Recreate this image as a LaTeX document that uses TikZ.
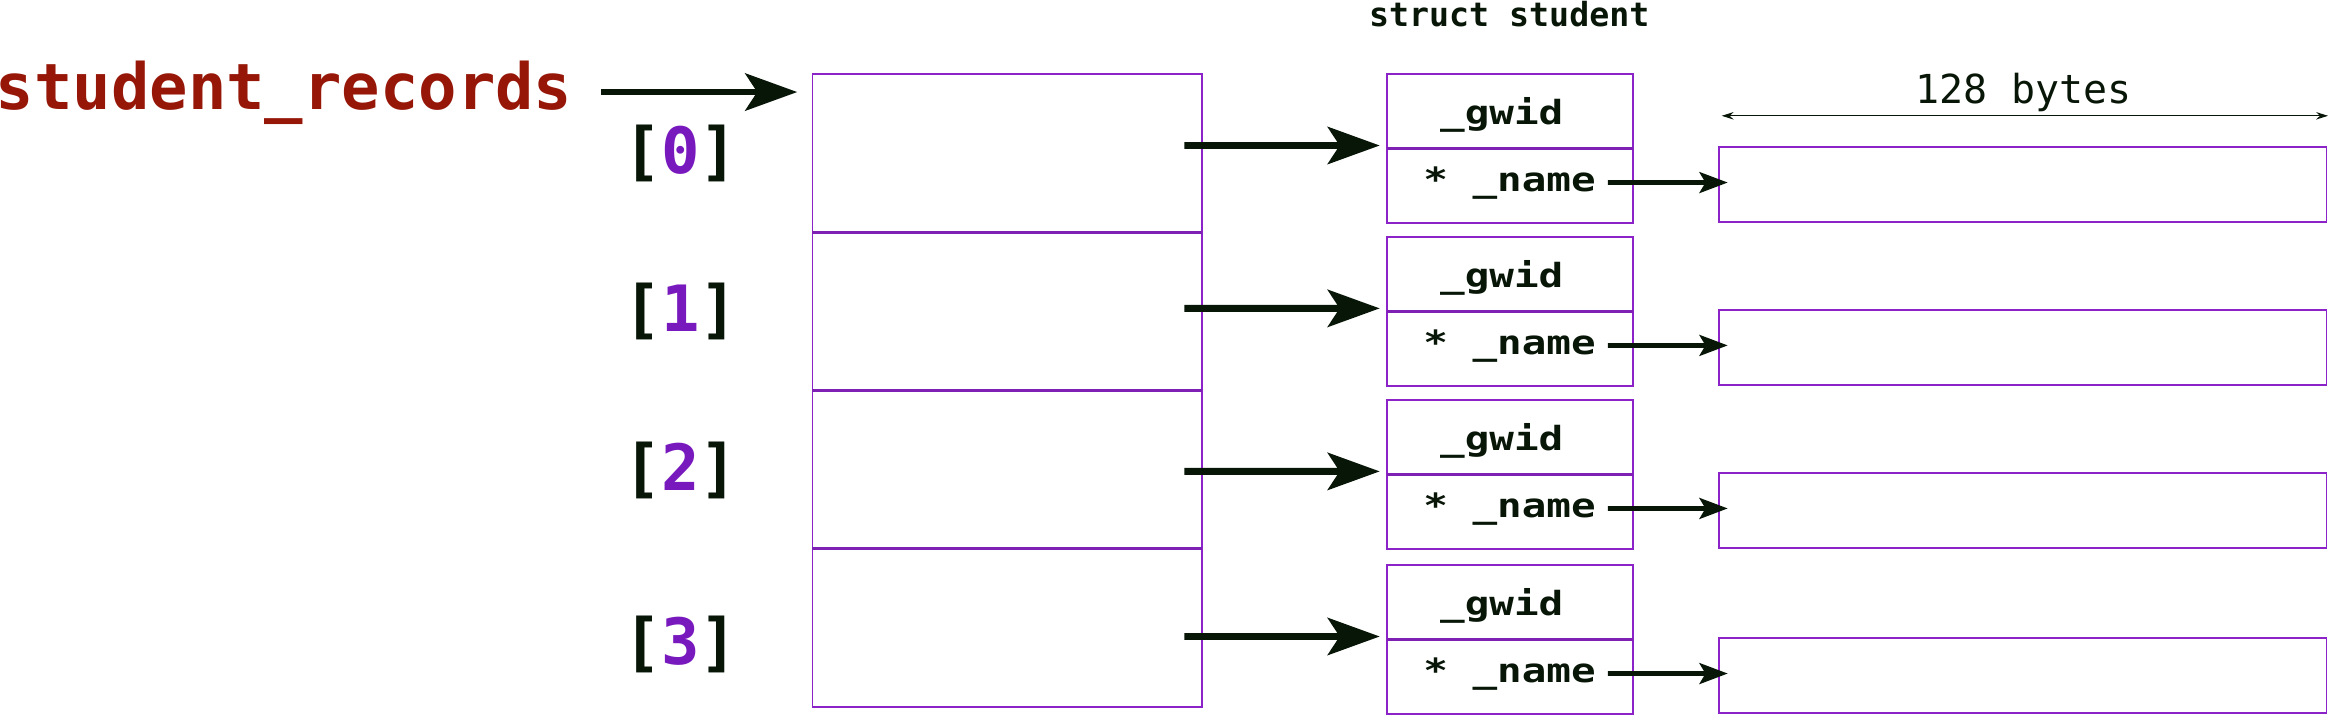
\documentclass[tikz,border=0pt]{standalone}
\usepackage{fontspec}
\newfontfamily\dvm{DejaVu Sans Mono}
\usetikzlibrary{arrows.meta}
\definecolor{recred}{RGB}{150,22,8}
\definecolor{boxpurple}{RGB}{140,35,200}
\definecolor{digpurple}{RGB}{120,25,190}
\definecolor{inkc}{RGB}{8,22,8}
\tikzset{
  cellbox/.style={draw=boxpurple, line width=1.1pt, minimum width=262.2pt, minimum height=106.55pt, anchor=north west, inner sep=0pt, outer sep=0pt},
  fieldbox/.style={draw=boxpurple, line width=1.1pt, minimum width=166pt, minimum height=50.2pt, anchor=north west, inner sep=0pt, outer sep=0pt},
  bufbox/.style={draw=boxpurple, line width=1.1pt, minimum width=409pt, minimum height=50.5pt, anchor=north west, inner sep=0pt, outer sep=0pt},
  divline/.style={draw=boxpurple!90!black, line width=2pt},
  bigarrow/.style={draw=inkc, line width=4.6pt, -{Stealth[length=35pt,width=25pt,inset=8pt]}},
  smallarrow/.style={draw=inkc, line width=3.2pt, -{Stealth[length=19pt,width=14pt,inset=4pt]}},
  dimarrow/.style={draw=inkc, line width=0.9pt, {Stealth[length=8pt,width=5pt]}-{Stealth[length=8pt,width=5pt]}},
  fieldtext/.style={anchor=base, inner sep=0pt, text=inkc, font=\dvm\bfseries\fontsize{22.4}{24}\selectfont},
  idxtext/.style={anchor=base, inner sep=0pt, text=inkc, font=\dvm\bfseries\fontsize{43}{45}\selectfont},
}
\begin{document}
\begin{tikzpicture}[x=1pt,y=-1pt]
\useasboundingbox (0,0) rectangle (1568,481.58);
% title
\node[anchor=base west, inner sep=0pt, text=recred, font=\dvm\bfseries\fontsize{43}{45}\selectfont] (title) at (-3,74) {student\_records};
\node[anchor=base, inner sep=0pt, text=inkc, font=\dvm\bfseries\fontsize{22.4}{24}\selectfont] (structlbl) at (1016.5,18) {struct student};
\node[anchor=base, inner sep=0pt, text=inkc, font=\dvm\fontsize{26.9}{28}\selectfont] (byteslbl) at (1363,69.6) {128 bytes};
% array cells
\foreach \i/\t in {0/49.8,1/156.35,2/262.9,3/369.45}{
  \node[cellbox] (c\i) at (547.2,\t) {};
}
\foreach \i in {1,2,3}{
  \draw[divline] (c\i.north west) -- (c\i.north east);
}
% index labels
\node[idxtext] (i0) at (458.5,116.8) {[\textcolor{digpurple}{0}]};
\node[idxtext] (i1) at (458.5,223.3) {[\textcolor{digpurple}{1}]};
\node[idxtext] (i2) at (458.5,330.3) {[\textcolor{digpurple}{2}]};
\node[idxtext] (i3) at (458.5,447.8) {[\textcolor{digpurple}{3}]};
% struct boxes and buffers
\foreach \i/\t in {0/49.8,1/159.5,2/269.3,3/380.5}{
  \node[fieldbox] (g\i) at (934,\t) {};
  \node[fieldbox] (n\i) at (934,\t+50.2) {};
  \draw[divline] (n\i.north west) -- (n\i.north east);
  \node[bufbox] (r\i) at (1158,\t+49.2) {};
  \node[fieldtext] (gt\i) at (1011.5,\t+33.9) {\scalebox{1.23}[1]{\_gwid}};
  \node[fieldtext] (nt\i) at (1016.7,\t+50.2+28.8) {\scalebox{1.23}[1]{* \_name}};
  \coordinate (ps\i) at (797.7,\t+48.2);
  \coordinate (ns\i) at (1083,\t+73.2);
  \draw[bigarrow] (ps\i) -- ([xshift=-4.7pt,yshift=2pt]g\i.south west);
  \draw[smallarrow] (ns\i) -- ([xshift=5.7pt,yshift=1.3pt]r\i.west);
}
% pointer arrow
\coordinate (ptrstart) at (405,62);
\draw[bigarrow] (ptrstart) -- ([xshift=-10.2pt,yshift=-12.2pt]c0.north west);
% dimension arrow
\coordinate (dimL) at (1159.6,78);
\coordinate (dimR) at (1568,78);
\draw[dimarrow] (dimL) -- (dimR);
\end{tikzpicture}
\end{document}
